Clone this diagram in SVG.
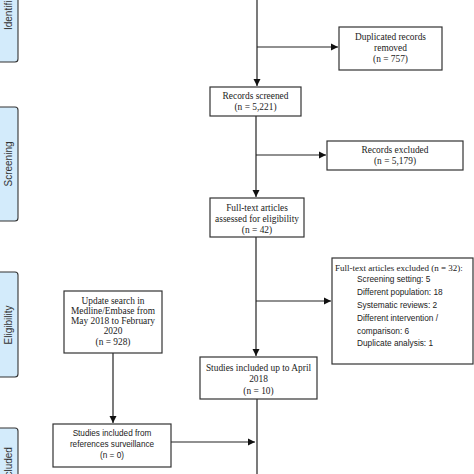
<svg xmlns="http://www.w3.org/2000/svg" width="474" height="474" viewBox="0 0 474 474">
<defs>
<marker id="ah" markerWidth="8" markerHeight="8" refX="7" refY="4" orient="auto" markerUnits="userSpaceOnUse">
<path d="M0,0.5 L7,4 L0,7.5 Z" fill="#111"/>
</marker>
<style>
.box{fill:#fff;stroke:#333;stroke-width:1.2}
.tab{fill:#d3ebfb;stroke:#333;stroke-width:1.1}
.ln{fill:none;stroke:#222;stroke-width:1.2}
.s{font-family:"Liberation Serif","Times New Roman",serif;font-size:9.4px;fill:#222;text-anchor:middle}
.sl{font-family:"Liberation Serif","Times New Roman",serif;font-size:9px;fill:#222}
.ss{font-family:"Liberation Sans",Arial,sans-serif;font-size:8.3px;fill:#222}
.ssm{font-family:"Liberation Sans",Arial,sans-serif;font-size:8.2px;fill:#222;text-anchor:middle}
.t{font-family:"Liberation Sans",Arial,sans-serif;font-size:10px;fill:#333;text-anchor:middle}
</style>
</defs>
<rect x="0" y="0" width="474" height="474" fill="#fff"/>
<g id="tab-identification">
<rect class="tab" x="-6" y="-10" width="24" height="72" rx="3"/>
<text class="t" transform="translate(12,2) rotate(-90)">Identification</text>
</g>
<g id="tab-screening">
<rect class="tab" x="-6" y="107" width="24" height="114" rx="3"/>
<text class="t" transform="translate(12,164) rotate(-90)">Screening</text>
</g>
<g id="tab-eligibility">
<rect class="tab" x="-6" y="272" width="24" height="105" rx="3"/>
<text class="t" transform="translate(12,325) rotate(-90)">Eligibility</text>
</g>
<g id="tab-included">
<rect class="tab" x="-6" y="428" width="24" height="60" rx="3"/>
<text class="t" transform="translate(12,466) rotate(-90)">Included</text>
</g>
<g id="connectors">
<line class="ln" x1="257" y1="0" x2="257" y2="86" marker-end="url(#ah)"/>
<line class="ln" x1="257" y1="47" x2="338" y2="47" marker-end="url(#ah)"/>
<line class="ln" x1="256" y1="116" x2="256" y2="197" marker-end="url(#ah)"/>
<line class="ln" x1="256" y1="155" x2="326" y2="155" marker-end="url(#ah)"/>
<line class="ln" x1="256" y1="237" x2="256" y2="356" marker-end="url(#ah)"/>
<line class="ln" x1="256" y1="301" x2="331" y2="301" marker-end="url(#ah)"/>
<line class="ln" x1="113" y1="353" x2="113" y2="423" marker-end="url(#ah)"/>
<line class="ln" x1="171" y1="442" x2="255" y2="442" marker-end="url(#ah)"/>
<line class="ln" x1="257" y1="399" x2="257" y2="474"/>
</g>
<g id="duplicated">
<rect class="box" x="339" y="27" width="103" height="43"/>
<text class="s" x="390.5" y="40">Duplicated records</text>
<text class="s" x="390.5" y="51">removed</text>
<text class="s" x="390.5" y="62">(n = 757)</text>
</g>
<g id="screened">
<rect class="box" x="210" y="87" width="91" height="29"/>
<text class="s" x="255.5" y="99">Records screened</text>
<text class="s" x="255.5" y="110">(n = 5,221)</text>
</g>
<g id="excluded">
<rect class="box" x="327" y="141" width="136" height="29"/>
<text class="s" x="395" y="153">Records excluded</text>
<text class="s" x="395" y="164">(n = 5,179)</text>
</g>
<g id="fulltext">
<rect class="box" x="210" y="198" width="94" height="39"/>
<text class="s" x="257" y="211">Full-text articles</text>
<text class="s" x="257" y="222">assessed for eligibility</text>
<text class="s" x="257" y="233">(n = 42)</text>
</g>
<g id="fulltext-excluded">
<rect class="box" x="332" y="258" width="141" height="106"/>
<text class="sl" x="335" y="271">Full-text articles excluded (n = 32):</text>
<text class="ss" x="357" y="282">Screening setting: 5</text>
<text class="ss" x="357" y="295">Different population: 18</text>
<text class="ss" x="357" y="308">Systematic reviews: 2</text>
<text class="ss" x="357" y="321">Different intervention /</text>
<text class="ss" x="357" y="334">comparison: 6</text>
<text class="ss" x="357" y="346">Duplicate analysis: 1</text>
</g>
<g id="update">
<rect class="box" x="64" y="291" width="98" height="62"/>
<text class="s" x="113" y="304">Update search in</text>
<text class="s" x="113" y="314">Medline/Embase from</text>
<text class="s" x="113" y="324">May 2018 to February</text>
<text class="s" x="113" y="334">2020</text>
<text class="s" x="113" y="345">(n = 928)</text>
</g>
<g id="included-2018">
<rect class="box" x="200" y="357" width="117" height="42"/>
<text class="s" x="258.5" y="371">Studies included up to April</text>
<text class="s" x="258.5" y="382">2018</text>
<text class="s" x="258.5" y="394">(n = 10)</text>
</g>
<g id="references">
<rect class="box" x="53" y="424" width="118" height="43"/>
<text class="ssm" x="112" y="436">Studies included from</text>
<text class="ssm" x="112" y="447">references surveillance</text>
<text class="ssm" x="112" y="458">(n = 0)</text>
</g>
</svg>
